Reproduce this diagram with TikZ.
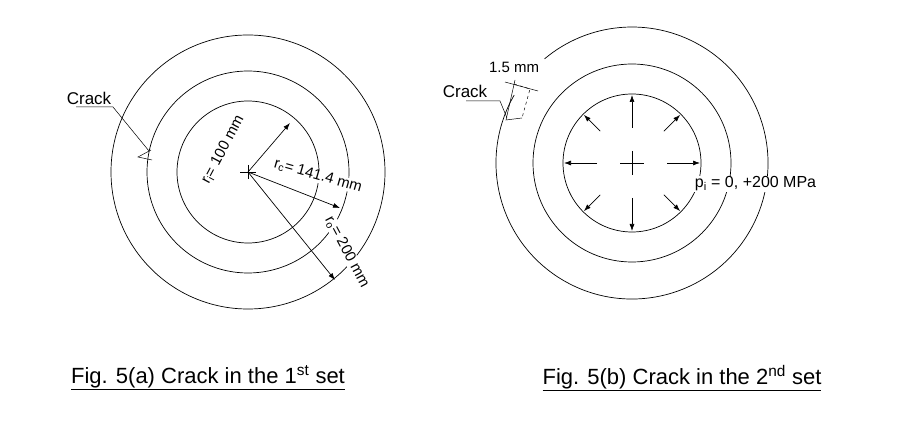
\documentclass[tikz,border=0pt]{standalone}
\usepackage{fontspec}
\setmainfont{Liberation Sans}
\usetikzlibrary{arrows.meta}
\begin{document}
\begin{tikzpicture}[x=1pt,y=-1pt,line width=0.7pt,
  ring/.style={draw},
  dim/.style={-{Latex[length=7pt,width=5pt]}},
  lbl/.style={font=\fontsize{15}{17}\selectfont,inner sep=0.5pt},
  captext/.style={font=\fontsize{22}{26}\selectfont}]
\useasboundingbox (0,0) rectangle (912,427);
% ---------- left figure
\coordinate (A) at (248,172);
\draw[ring] (A) circle[radius=71pt];
\draw[ring] (A) circle[radius=101pt];
\draw[ring] (A) circle[radius=137pt];
\draw (240,172) -- (256,172) (248,165) -- (248,179);
\coordinate (Ai) at (290,123);
\coordinate (Ac) at (340,208);
\coordinate (Ao) at (335,280);
\draw[dim] (A) -- (Ai);
\draw[dim] (A) -- (Ac);
\draw[dim] (A) -- (Ao);
\node[lbl,fill=white,rotate=62] (ri) at (223,150) {r$_{\mathrm i}$= 100 mm};
\node[lbl,fill=white,rotate=-16] (rc) at (318,176) {r$_{\mathrm c}$= 141.4 mm};
\node[lbl,fill=white,rotate=-62] (ro) at (347,252) {r$_{\mathrm o}$= 200 mm};
\node[lbl,font=\fontsize{17}{19}\selectfont,anchor=south west] (crA) at (66,106) {Crack};
\coordinate (cA1) at (113,107);
\coordinate (cA2) at (149,151);
\draw[line width=0.5pt] (76,107) -- (cA1) -- (cA2);
\draw[line width=0.5pt] (151,150) -- (138,157) -- (152,160);
\node[captext] (capA) at (208,378) {\underline{Fig. 5(a) Crack in the 1$^{\mathrm{st}}$ set}};
% ---------- right figure
\coordinate (B) at (632,163);
\draw[ring] (B) circle[radius=69pt];
\draw[ring] (B) circle[radius=99pt];
\draw[ring] ([shift={(150:136pt)}]B) arc[start angle=150,end angle=490,radius=136pt];
\draw (620,163) -- (644,163) (632,151) -- (632,175);
\foreach \a/\s in {0/35,90/35,180/35,270/35,45/45,135/45,225/45,315/45}
  \draw[dim] ([shift={(\a:\s pt)}]B) -- ([shift={(\a:68pt)}]B);
\node[lbl,fill=white,anchor=west,font=\fontsize{16}{18}\selectfont] (pi) at (694,184) {p$_{\mathrm i}$ = 0, +200 MPa};
\node[lbl,font=\fontsize{17}{19}\selectfont,anchor=south west] (crB) at (442,99) {Crack};
\node[lbl] (d15) at (514,67) {1.5 mm};
\draw[line width=0.5pt] (466,101) -- (500,101) -- (507,118);
\draw[line width=0.5pt] (505,82) -- (538,91);
\draw[line width=0.5pt] (515,80) -- (506,120) -- (522,118);
\draw[line width=0.5pt,dashed] (514,84) -- (530,89) -- (522,118);
\node[captext] (capB) at (682,378) {\underline{Fig. 5(b) Crack in the 2$^{\mathrm{nd}}$ set}};
\end{tikzpicture}
\end{document}
